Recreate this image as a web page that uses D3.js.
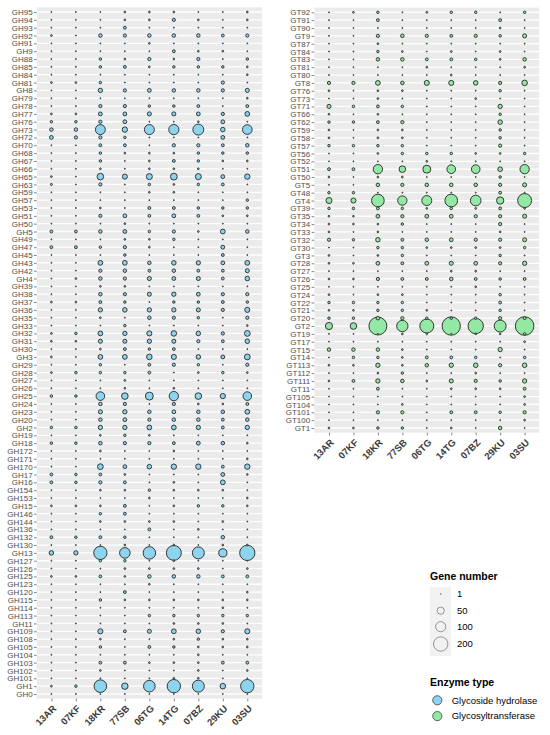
<!DOCTYPE html>
<html>
<head>
<meta charset="utf-8">
<script src="https://cdn.jsdelivr.net/npm/d3@7"></script>
<style>
body { margin: 0; background: #fff; }
text { font-family: "Liberation Sans", Arial, Helvetica, sans-serif; }
</style>
</head>
<body>
<svg id="chart" width="550" height="735"></svg>
<script>
'use strict';

var samples = ['13AR', '07KF', '18KR', '77SB', '06TG', '14TG', '07BZ', '29KU', '03SU'];

var ghFamilies = ['GH95','GH94','GH93','GH92','GH91','GH9','GH88','GH85','GH84','GH81','GH8','GH79',
    'GH78','GH77','GH76','GH73','GH72','GH70','GH68','GH67','GH66','GH65','GH63','GH59','GH57','GH53',
    'GH51','GH50','GH5','GH49','GH47','GH45','GH43','GH42','GH4','GH39','GH38','GH37','GH36','GH35',
    'GH33','GH32','GH31','GH30','GH3','GH29','GH28','GH27','GH26','GH25','GH24','GH23','GH20','GH2',
    'GH19','GH18','GH172','GH171','GH170','GH17','GH16','GH154','GH153','GH15','GH146','GH144','GH136',
    'GH132','GH130','GH13','GH127','GH126','GH125','GH123','GH120','GH115','GH114','GH113','GH11',
    'GH109','GH108','GH105','GH104','GH103','GH102','GH101','GH1','GH0'];

// gene counts per family, columns follow samples
var ghCounts = [
    [1,1,1,3,3,3,1,1,3],
    [1,1,1,3,3,10,3,1,3],
    [1,1,1,8,1,1,1,1,1],
    [3,1,12,10,12,12,12,8,10],
    [1,1,1,1,3,1,1,1,1],
    [1,1,1,1,1,8,3,3,1],
    [1,1,6,3,10,3,10,1,6],
    [1,1,6,8,3,6,6,6,3],
    [1,1,1,1,1,1,1,1,3],
    [3,3,6,1,1,1,1,10,1],
    [1,1,18,10,14,12,12,10,16],
    [1,1,1,1,1,1,1,1,3],
    [1,1,10,10,6,6,8,1,8],
    [3,3,14,14,16,16,14,10,22],
    [6,6,10,14,1,1,3,14,1],
    [12,12,96,28,96,100,115,20,90],
    [14,10,10,6,1,1,1,14,1],
    [1,1,8,8,1,10,10,8,12],
    [1,1,6,3,3,3,6,6,6],
    [1,1,6,1,3,8,6,3,3],
    [1,1,3,1,3,3,3,1,1],
    [3,1,42,25,35,45,35,14,28],
    [4,1,10,1,6,3,6,8,1],
    [1,1,1,1,3,3,1,1,1],
    [1,1,1,1,1,1,1,1,6],
    [1,1,3,1,8,8,6,6,6],
    [1,1,10,14,8,14,8,3,3],
    [1,1,1,3,1,1,1,1,1],
    [8,8,12,14,6,10,3,22,12],
    [1,1,1,3,3,6,1,1,1],
    [8,8,6,10,3,1,1,14,1],
    [1,1,1,6,1,1,1,8,1],
    [1,1,22,22,12,20,18,14,22],
    [1,1,10,12,8,12,8,8,16],
    [1,3,12,10,16,14,16,8,20],
    [1,1,3,3,1,1,1,1,1],
    [1,1,12,10,16,18,14,10,10],
    [3,3,8,6,1,6,6,8,6],
    [1,1,18,20,18,18,16,10,25],
    [1,1,3,1,12,10,6,1,10],
    [1,1,1,6,1,1,1,1,3],
    [3,6,22,18,25,30,20,10,32],
    [3,3,16,16,18,16,10,8,20],
    [1,1,3,8,6,8,1,1,1],
    [3,1,22,22,30,25,20,14,32],
    [1,1,6,1,8,10,6,1,10],
    [3,6,6,6,8,1,3,6,3],
    [1,1,1,3,1,1,1,1,1],
    [1,1,1,3,1,3,1,1,1],
    [6,6,72,42,61,84,42,27,72],
    [1,1,12,10,1,10,3,3,8],
    [1,1,16,18,12,14,12,12,22],
    [1,1,12,14,10,12,12,8,12],
    [6,6,18,18,22,22,18,8,18],
    [1,1,3,6,3,1,1,1,1],
    [6,6,12,10,10,8,14,12,3],
    [1,1,3,1,1,3,1,1,1],
    [1,1,1,1,1,1,1,1,3],
    [1,1,32,14,20,28,28,8,28],
    [8,6,8,3,1,1,1,14,3],
    [8,6,10,8,1,3,1,22,1],
    [1,1,3,3,6,3,3,3,1],
    [1,1,1,1,3,1,1,1,3],
    [3,3,3,8,1,3,6,6,3],
    [1,1,6,8,1,1,1,1,1],
    [1,1,3,3,3,3,1,3,1],
    [1,1,1,1,8,1,3,1,1],
    [8,6,8,6,1,1,1,12,1],
    [1,1,1,3,1,3,1,3,3],
    [20,18,170,108,150,215,138,65,225],
    [1,1,6,6,1,3,1,1,1],
    [1,1,1,3,3,3,3,1,3],
    [3,3,8,3,12,12,12,8,8],
    [1,1,1,1,3,1,1,1,1],
    [1,1,1,8,1,1,1,1,3],
    [1,1,6,3,3,3,3,3,3],
    [1,1,1,1,1,1,1,3,1],
    [1,1,1,1,6,6,6,6,6],
    [1,1,1,1,1,3,3,3,1],
    [1,1,25,8,16,22,20,10,25],
    [1,1,3,1,1,3,6,3,3],
    [1,1,6,1,8,6,3,3,3],
    [1,1,1,1,1,1,3,1,1],
    [1,1,8,8,3,3,3,8,8],
    [1,1,3,1,1,1,3,1,3],
    [1,1,1,1,1,3,3,1,1],
    [3,6,153,40,130,172,138,30,172],
    [1,1,1,1,1,1,1,1,1]
];

var gtFamilies = ['GT92','GT91','GT90','GT9','GT87','GT84','GT83','GT81','GT80','GT8','GT76','GT73',
    'GT71','GT66','GT62','GT59','GT58','GT57','GT56','GT52','GT51','GT50','GT5','GT48','GT4','GT39',
    'GT35','GT34','GT33','GT32','GT30','GT3','GT28','GT27','GT26','GT25','GT24','GT22','GT21','GT20',
    'GT2','GT19','GT17','GT15','GT14','GT113','GT112','GT111','GT11','GT105','GT104','GT101','GT100','GT1'];

var gtCounts = [
    [1,3,6,1,3,6,6,1,6],
    [1,1,8,1,1,1,1,8,1],
    [1,1,1,1,1,1,1,3,1],
    [1,1,10,12,10,8,10,6,16],
    [1,1,3,1,1,1,1,1,1],
    [1,1,6,3,1,3,1,3,1],
    [1,1,12,12,8,8,6,3,12],
    [1,1,1,1,3,1,1,1,3],
    [1,1,1,1,1,3,1,1,1],
    [10,10,22,12,25,25,20,10,30],
    [3,1,3,3,1,1,1,6,1],
    [1,1,3,1,1,1,3,1,1],
    [16,6,8,6,1,1,1,18,1],
    [3,1,3,1,1,1,1,6,1],
    [6,6,8,10,1,1,1,20,1],
    [3,1,3,3,1,1,1,6,1],
    [3,1,3,3,1,1,1,6,1],
    [6,6,6,6,1,1,1,10,1],
    [1,1,3,6,6,6,3,3,6],
    [1,1,1,1,3,1,1,1,1],
    [8,8,84,42,61,72,72,21,84],
    [3,1,3,3,1,1,1,6,1],
    [1,1,12,10,12,12,12,10,16],
    [6,6,1,1,1,1,1,8,1],
    [35,25,155,84,96,155,110,52,188],
    [6,6,8,6,3,6,3,8,3],
    [3,3,14,10,14,14,10,10,16],
    [3,3,3,6,1,1,1,10,1],
    [3,1,3,1,1,1,1,3,1],
    [10,6,20,8,12,14,10,10,16],
    [1,1,6,6,3,3,3,3,6],
    [3,1,3,6,1,1,1,6,1],
    [3,3,14,8,14,16,14,10,18],
    [1,1,1,1,1,3,3,1,1],
    [3,3,10,8,8,12,8,6,8],
    [1,1,1,1,1,1,3,1,1],
    [3,1,3,3,1,1,1,6,1],
    [6,6,6,6,1,1,1,8,1],
    [3,3,6,6,3,1,1,6,1],
    [6,6,12,10,6,6,6,10,8],
    [50,42,310,124,188,325,226,138,333],
    [1,1,1,3,3,1,3,3,6],
    [1,1,1,1,1,1,1,1,3],
    [12,12,12,3,1,1,1,18,1],
    [1,6,6,3,8,8,6,1,6],
    [3,3,18,3,12,18,20,10,20],
    [1,1,3,6,1,1,3,1,1],
    [3,8,18,12,3,16,10,6,18],
    [1,1,8,1,1,3,3,3,8],
    [1,1,1,1,1,1,1,1,3],
    [1,1,1,3,1,1,1,1,3],
    [1,1,10,10,1,8,8,6,10],
    [1,1,1,1,1,1,1,1,3],
    [3,3,6,6,1,3,1,12,1]
];

var sizeBreaks = [1, 50, 100, 200];
var enzymeTypes = ['Glycoside hydrolase', 'Glycosyltransferase'];
var enzymeColors = ['#8dd5ee', '#93e8a3'];

var size = d3.scaleSqrt().domain([0, 200]).range([0, 7.2]);

function dotPanel() {
    var extent = [[0, 0], [100, 100]];
    var fill = '#ccc';

    function display(selection) {
        selection.each(function (data, i) {
            var root = d3.select(this);
            var x = d3.scalePoint().domain(samples)
                .range([extent[0][0], extent[1][0]]).padding(0.6);
            var y = d3.scalePoint().domain(data.families)
                .range([extent[0][1], extent[1][1]]).padding(0.6);

            root.append('rect')
                .attr('x', extent[0][0])
                .attr('y', extent[0][1])
                .attr('width', extent[1][0] - extent[0][0])
                .attr('height', extent[1][1] - extent[0][1])
                .attr('fill', '#ebebeb');

            root.append('g')
                .attr('class', 'grid')
                .selectAll('line')
                .data(data.families)
                .enter().append('line')
                .attr('x1', extent[0][0])
                .attr('x2', extent[1][0])
                .attr('y1', function (d) { return y(d); })
                .attr('y2', function (d) { return y(d); })
                .style('stroke', 'white')
                .style('stroke-width', 1.3);

            var yAxis = root.append('g')
                .attr('transform', 'translate(' + extent[0][0] + ',0)')
                .call(d3.axisLeft(y).tickSize(2.7).tickPadding(1.4));
            yAxis.select('.domain').remove();
            yAxis.selectAll('line').style('stroke', '#333').style('stroke-width', 0.6);
            yAxis.selectAll('text')
                .style('font-size', '8px')
                .style('fill', '#4d4d4d')
                .style('font-family', '"Liberation Sans", Arial, sans-serif');

            var xAxis = root.append('g')
                .attr('transform', 'translate(0,' + extent[1][1] + ')')
                .call(d3.axisBottom(x).tickSize(2.7));
            xAxis.select('.domain').remove();
            xAxis.selectAll('line').style('stroke', '#333').style('stroke-width', 0.6);
            xAxis.selectAll('text')
                .attr('x', 0)
                .attr('y', 0)
                .attr('dy', '0.72em')
                .attr('transform', 'translate(0,5.6) rotate(-45)')
                .style('text-anchor', 'end')
                .style('font-size', '9.5px')
                .style('font-weight', 'bold')
                .style('fill', '#3a3a3a')
                .style('font-family', '"Liberation Sans", Arial, sans-serif');

            var cells = [];
            data.families.forEach(function (f, r) {
                samples.forEach(function (s, c) {
                    cells.push({family: f, sample: s, value: data.counts[r][c]});
                });
            });
            // small dots on top of the big ones
            cells.sort(function (a, b) { return b.value - a.value; });

            root.append('g')
                .attr('class', 'dots')
                .selectAll('circle')
                .data(cells)
                .enter().append('circle')
                .attr('cx', function (d) { return x(d.sample); })
                .attr('cy', function (d) { return y(d.family); })
                .attr('r', function (d) { return size(d.value); })
                .style('fill', fill)
                .style('stroke', '#262626')
                .style('stroke-width', 0.9);
        });
    }

    display.extent = function (value) {
        if (!arguments.length) return extent;
        extent = value;
        return display;
    };

    display.fill = function (value) {
        if (!arguments.length) return fill;
        fill = value;
        return display;
    };

    return display;
}

function legend() {
    function display(selection) {
        selection.each(function () {
            var root = d3.select(this);

            root.append('text')
                .attr('x', 430).attr('y', 580)
                .style('font-size', '10.5px').style('font-weight', 'bold')
                .text('Gene number');

            root.append('rect')
                .attr('x', 430).attr('y', 587)
                .attr('width', 21).attr('height', 69)
                .attr('fill', '#f2f2f2');

            var keys = root.selectAll('g.size-key')
                .data(sizeBreaks)
                .enter().append('g')
                .attr('class', 'size-key')
                .attr('transform', function (d, i) {
                    return 'translate(0,' + [594, 610.7, 626.7, 644][i] + ')';
                });
            keys.append('circle')
                .attr('cx', 440.7)
                .attr('r', function (d) { return size(d); })
                .style('fill', 'none')
                .style('stroke', '#555')
                .style('stroke-width', 0.6);
            keys.append('text')
                .attr('x', 457).attr('dy', '0.35em')
                .style('font-size', '9.5px')
                .text(function (d) { return d; });

            root.append('text')
                .attr('x', 430).attr('y', 686)
                .style('font-size', '10.5px').style('font-weight', 'bold')
                .text('Enzyme type');

            var types = root.selectAll('g.type-key')
                .data(enzymeTypes)
                .enter().append('g')
                .attr('class', 'type-key')
                .attr('transform', function (d, i) { return 'translate(0,' + (700.3 + i * 15.8) + ')'; });
            types.append('circle')
                .attr('cx', 437.3).attr('r', 4.6)
                .style('fill', function (d, i) { return enzymeColors[i]; })
                .style('stroke', '#2b2b2b')
                .style('stroke-width', 0.7);
            types.append('text')
                .attr('x', 451.7).attr('dy', '0.35em')
                .style('font-size', '9.5px')
                .text(function (d) { return d; });
        });
    }
    return display;
}

var svg = d3.select('#chart');

svg.append('g')
    .datum({families: ghFamilies, counts: ghCounts})
    .call(dotPanel().extent([[36.7, 7.3], [262, 698.7]]).fill(enzymeColors[0]));

svg.append('g')
    .datum({families: gtFamilies, counts: gtCounts})
    .call(dotPanel().extent([[314.3, 7.6], [539.3, 432.7]]).fill(enzymeColors[1]));

svg.append('g').call(legend());
</script>
</body>
</html>
